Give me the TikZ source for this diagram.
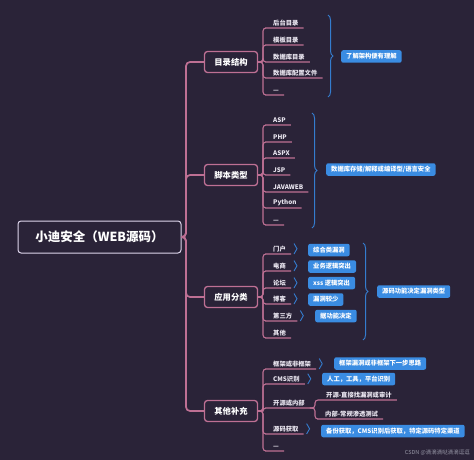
\documentclass[tikz,border=0pt]{standalone}
\usepackage{fontspec}
\setmainfont{Noto Sans CJK SC}
\usetikzlibrary{decorations.pathreplacing,calc}
\definecolor{bg}{RGB}{42,35,56}
\definecolor{pinkline}{RGB}{190,112,148}
\definecolor{rootline}{RGB}{222,214,236}
\definecolor{bluebox}{RGB}{58,140,226}
\definecolor{braceblue}{RGB}{52,124,206}
\definecolor{wmgrey}{RGB}{150,150,165}
\definecolor{leaftext}{RGB}{236,232,242}
\begin{document}
\begin{tikzpicture}[x=1pt,y=1pt,
 rootbox/.style={draw=rootline, line width=1pt, rounded corners=3pt, fill=bg, text=white,
   font=\fontsize{12.5}{15}\selectfont\bfseries, minimum width=163pt, minimum height=32pt, inner sep=0pt},
 lone/.style={draw=pinkline, line width=1.3pt, rounded corners=3pt, fill=bg, text=white,
   font=\fontsize{8.3}{10}\selectfont\bfseries, minimum width=53pt, minimum height=21pt, inner sep=0pt},
 ltwo/.style={anchor=south west, text=leaftext, font=\fontsize{6.3}{7.5}\selectfont\bfseries, inner xsep=5pt, inner ysep=2pt},
 bbox/.style={fill=bluebox, rounded corners=2pt, text=white, font=\fontsize{6.3}{7.5}\selectfont\bfseries,
   inner xsep=5pt, inner ysep=2pt, minimum height=12.5pt, anchor=west},
 trunk/.style={draw=pinkline, line width=1.7pt, rounded corners=4pt},
 twig/.style={draw=pinkline, line width=1.1pt, rounded corners=3pt},
 bigbrace/.style={draw=braceblue, line width=1pt, decorate, decoration={brace, amplitude=5pt}},
 smallbrace/.style={draw=braceblue, line width=0.9pt, decorate, decoration={brace, amplitude=3pt}},
 wmark/.style={font=\fontsize{5.5}{6.5}\selectfont, text=wmgrey, anchor=east, inner sep=0pt}
]
\fill[bg] (0,0) rectangle (474,-460);
\useasboundingbox (0,0) rectangle (474,-460);

% root and level 1
\node[rootbox] (root) at (99.5,-237) {小迪安全（WEB源码）};
\node[lone] (d1) at (231,-62) {目录结构};
\node[lone] (d2) at (231,-175) {脚本类型};
\node[lone] (d3) at (231,-297) {应用分类};
\node[lone] (d4) at (231,-411) {其他补充};

\coordinate (tj) at (186,-237);
\draw[trunk] (root.east) -- (tj) |- (d1.west);
\draw[trunk] (root.east) -- (tj) |- (d2.west);
\draw[trunk] (root.east) -- (tj) |- (d3.west);
\draw[trunk] (root.east) -- (tj) |- (d4.west);

% ---- 目录结构
\node[ltwo] (a1) at (268,-28) {后台目录};
\node[ltwo] (a2) at (268,-45) {模板目录};
\node[ltwo] (a3) at (268,-62) {数据库目录};
\node[ltwo] (a4) at (268,-78) {数据库配置文件};
\node[ltwo] (a5) at (268,-95) {—};
\coordinate (j1) at (263,-62);
\foreach \c in {a1,a2,a3,a4,a5}
  \draw[twig] (d1.east) -- (j1) |- (\c.south west) -- (\c.south east);
\coordinate (ba) at (328,-15);
\coordinate (bb) at (328,-97);
\draw[bigbrace] (ba) -- (bb);
\node[bbox] (ab) at (341,-56.5) {了解架构便有理解};

% ---- 脚本类型
\node[ltwo] (s1) at (268,-125) {ASP};
\node[ltwo] (s2) at (268,-142) {PHP};
\node[ltwo] (s3) at (268,-158) {ASPX};
\node[ltwo] (s4) at (268,-175) {JSP};
\node[ltwo] (s5) at (268,-192) {JAVAWEB};
\node[ltwo] (s6) at (268,-208) {Python};
\node[ltwo] (s7) at (268,-225) {—};
\coordinate (j2) at (263,-175);
\foreach \c in {s1,s2,s3,s4,s5,s6,s7}
  \draw[twig] (d2.east) -- (j2) |- (\c.south west) -- (\c.south east);
\coordinate (bc) at (312,-113);
\coordinate (bd) at (312,-228);
\draw[bigbrace] (bc) -- (bd);
\node[bbox] (sb) at (326,-169.5) {数据库存储/解释或编译型/语言安全};

% ---- 应用分类
\node[ltwo] (p1) at (268,-254) {门户};
\node[ltwo] (p2) at (268,-271) {电商};
\node[ltwo] (p3) at (268,-288) {论坛};
\node[ltwo] (p4) at (268,-304) {博客};
\node[ltwo] (p5) at (268,-321) {第三方};
\node[ltwo] (p6) at (268,-338) {其他};
\coordinate (j3) at (263,-297);
\foreach \c in {p1,p2,p3,p4,p5,p6}
  \draw[twig] (d3.east) -- (j3) |- (\c.south west) -- (\c.south east);
\node[bbox] (pb1) at (308,-250) {综合类漏洞};
\node[bbox] (pb2) at (308,-266.5) {业务逻辑突出};
\node[bbox] (pb3) at (308,-283) {xss 逻辑突出};
\node[bbox] (pb4) at (308,-299.5) {漏洞较少};
\node[bbox] (pb5) at (315,-316) {据功能决定};
\foreach \c in {p1,p2,p3,p4,p5}
  \draw[smallbrace] ($(\c.north east)+(3,0)$) -- ($(\c.south east)+(3,0)$);
\coordinate (be) at (363,-243);
\coordinate (bf) at (363,-340);
\draw[bigbrace] (be) -- (bf);
\node[bbox] (pb) at (377,-291.5) {源码功能决定漏洞类型};

% ---- 其他补充
\node[ltwo] (k1) at (268,-369) {框架或非框架};
\node[ltwo] (k2) at (268,-384) {CMS识别};
\node[ltwo] (k3) at (268,-408) {开源或内部};
\node[ltwo] (k4) at (268,-434) {源码获取};
\node[ltwo] (k5) at (268,-451) {—};
\coordinate (j4) at (263,-411);
\foreach \c in {k1,k2,k3,k4,k5}
  \draw[twig] (d4.east) -- (j4) |- (\c.south west) -- (\c.south east);
\node[ltwo] (o1) at (321,-400) {开源-直接找漏洞或审计};
\node[ltwo] (o2) at (320,-419) {内部-常规渗透测试};
\coordinate (j5) at (315,-408);
\draw[twig] (k3.south east) -- (j5) |- (o1.south west) -- (o1.south east);
\draw[twig] (k3.south east) -- (j5) |- (o2.south west) -- (o2.south east);
\node[bbox] (kb1) at (334,-363.5) {框架漏洞或非框架下一步思路};
\node[bbox] (kb2) at (322,-379) {人工，工具，平台识别};
\node[bbox] (kb4) at (321,-431) {备份获取，CMS识别后获取，特定源码特定渠道};
\foreach \c in {k1,k2,k4}
  \draw[smallbrace] ($(\c.north east)+(3,0)$) -- ($(\c.south east)+(3,0)$);

\node[wmark] (wm) at (470,-453) {CSDN @滴滴滴哒滴滴逗逗};
\end{tikzpicture}
\end{document}
